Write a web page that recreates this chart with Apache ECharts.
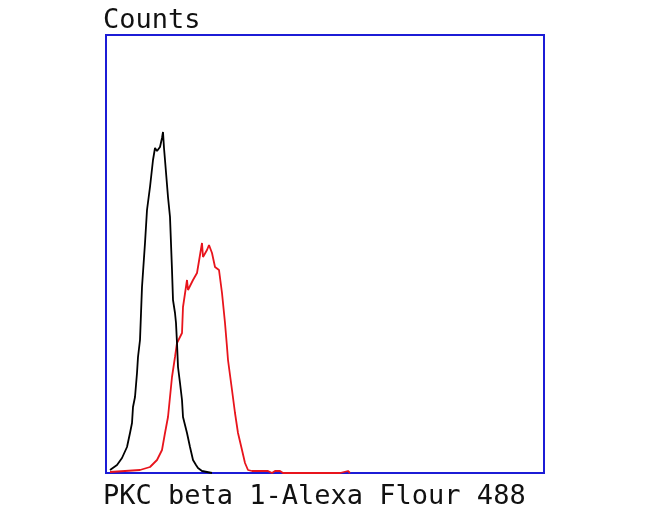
<!DOCTYPE html>
<html>
<head>
<meta charset="utf-8">
<script src="https://cdn.jsdelivr.net/npm/echarts@6/dist/echarts.min.js"></script>
<style>html,body{margin:0;padding:0;background:#fff;}#main{width:650px;height:515px;}</style>
</head>
<body>
<div id="main"></div>
<script>
// Fluorescence channel (x) and counts (y)
const controlX = [4,11,16,21,24,26,27,29,31,32,34,36,39,41,44,47,49,51,52,54,56,57,58,59,62,64,66,67,69,70,71,72,74,76,77,79,81,84,87,90,92,96,101,106];
const controlY = [3,8,15,26,40,50,66,76,100,116,133,186,230,263,286,313,325,322,320,326,335,341,325,313,276,256,203,173,160,150,130,106,90,73,56,48,40,26,13,8,5,2,1,0];
const sampleX = [4,34,44,51,56,59,62,64,66,69,71,76,77,81,82,87,91,92,96,97,101,103,106,109,113,116,119,121,122,126,129,132,136,139,142,146,154,162,166,169,174,177,234,236,242,244];
const sampleY = [1,3,6,13,23,40,56,76,96,116,130,140,166,193,183,193,200,206,230,216,223,228,220,206,203,180,150,126,113,83,60,40,23,10,3,2,2,2,0,2,2,0,0,2,2,0];
const titleText = 'Counts';
const xLabelText = 'PKC beta 1-Alexa Flour 488';

const chart = echarts.init(document.getElementById('main'));
const zip = (xs, ys) => xs.map((x, i) => [x, ys[i]]);
chart.setOption({
  animation: false,
  grid: {left: 106, top: 35, width: 438, height: 438, show: true, borderColor: '#1c1cd6', borderWidth: 2, backgroundColor: '#fff'},
  xAxis: {type: 'value', min: 0, max: 438, axisLine: {show: false}, axisTick: {show: false}, axisLabel: {show: false}, splitLine: {show: false}},
  yAxis: {type: 'value', min: 0, max: 438, axisLine: {show: false}, axisTick: {show: false}, axisLabel: {show: false}, splitLine: {show: false}},
  series: [
    {type: 'line', name: 'control', data: zip(controlX, controlY), showSymbol: false, lineStyle: {color: '#000', width: 1.8}, z: 3},
    {type: 'line', name: 'sample', data: zip(sampleX, sampleY), showSymbol: false, lineStyle: {color: '#e8141c', width: 1.8}, z: 2}
  ],
  graphic: [
    {type: 'text', left: 103, top: 7, style: {text: titleText, font: '27px "DejaVu Sans Mono"', fill: '#111'}},
    {type: 'text', left: 103, top: 483, style: {text: xLabelText, font: '27px "DejaVu Sans Mono"', fill: '#111'}}
  ]
});
</script>
</body>
</html>
